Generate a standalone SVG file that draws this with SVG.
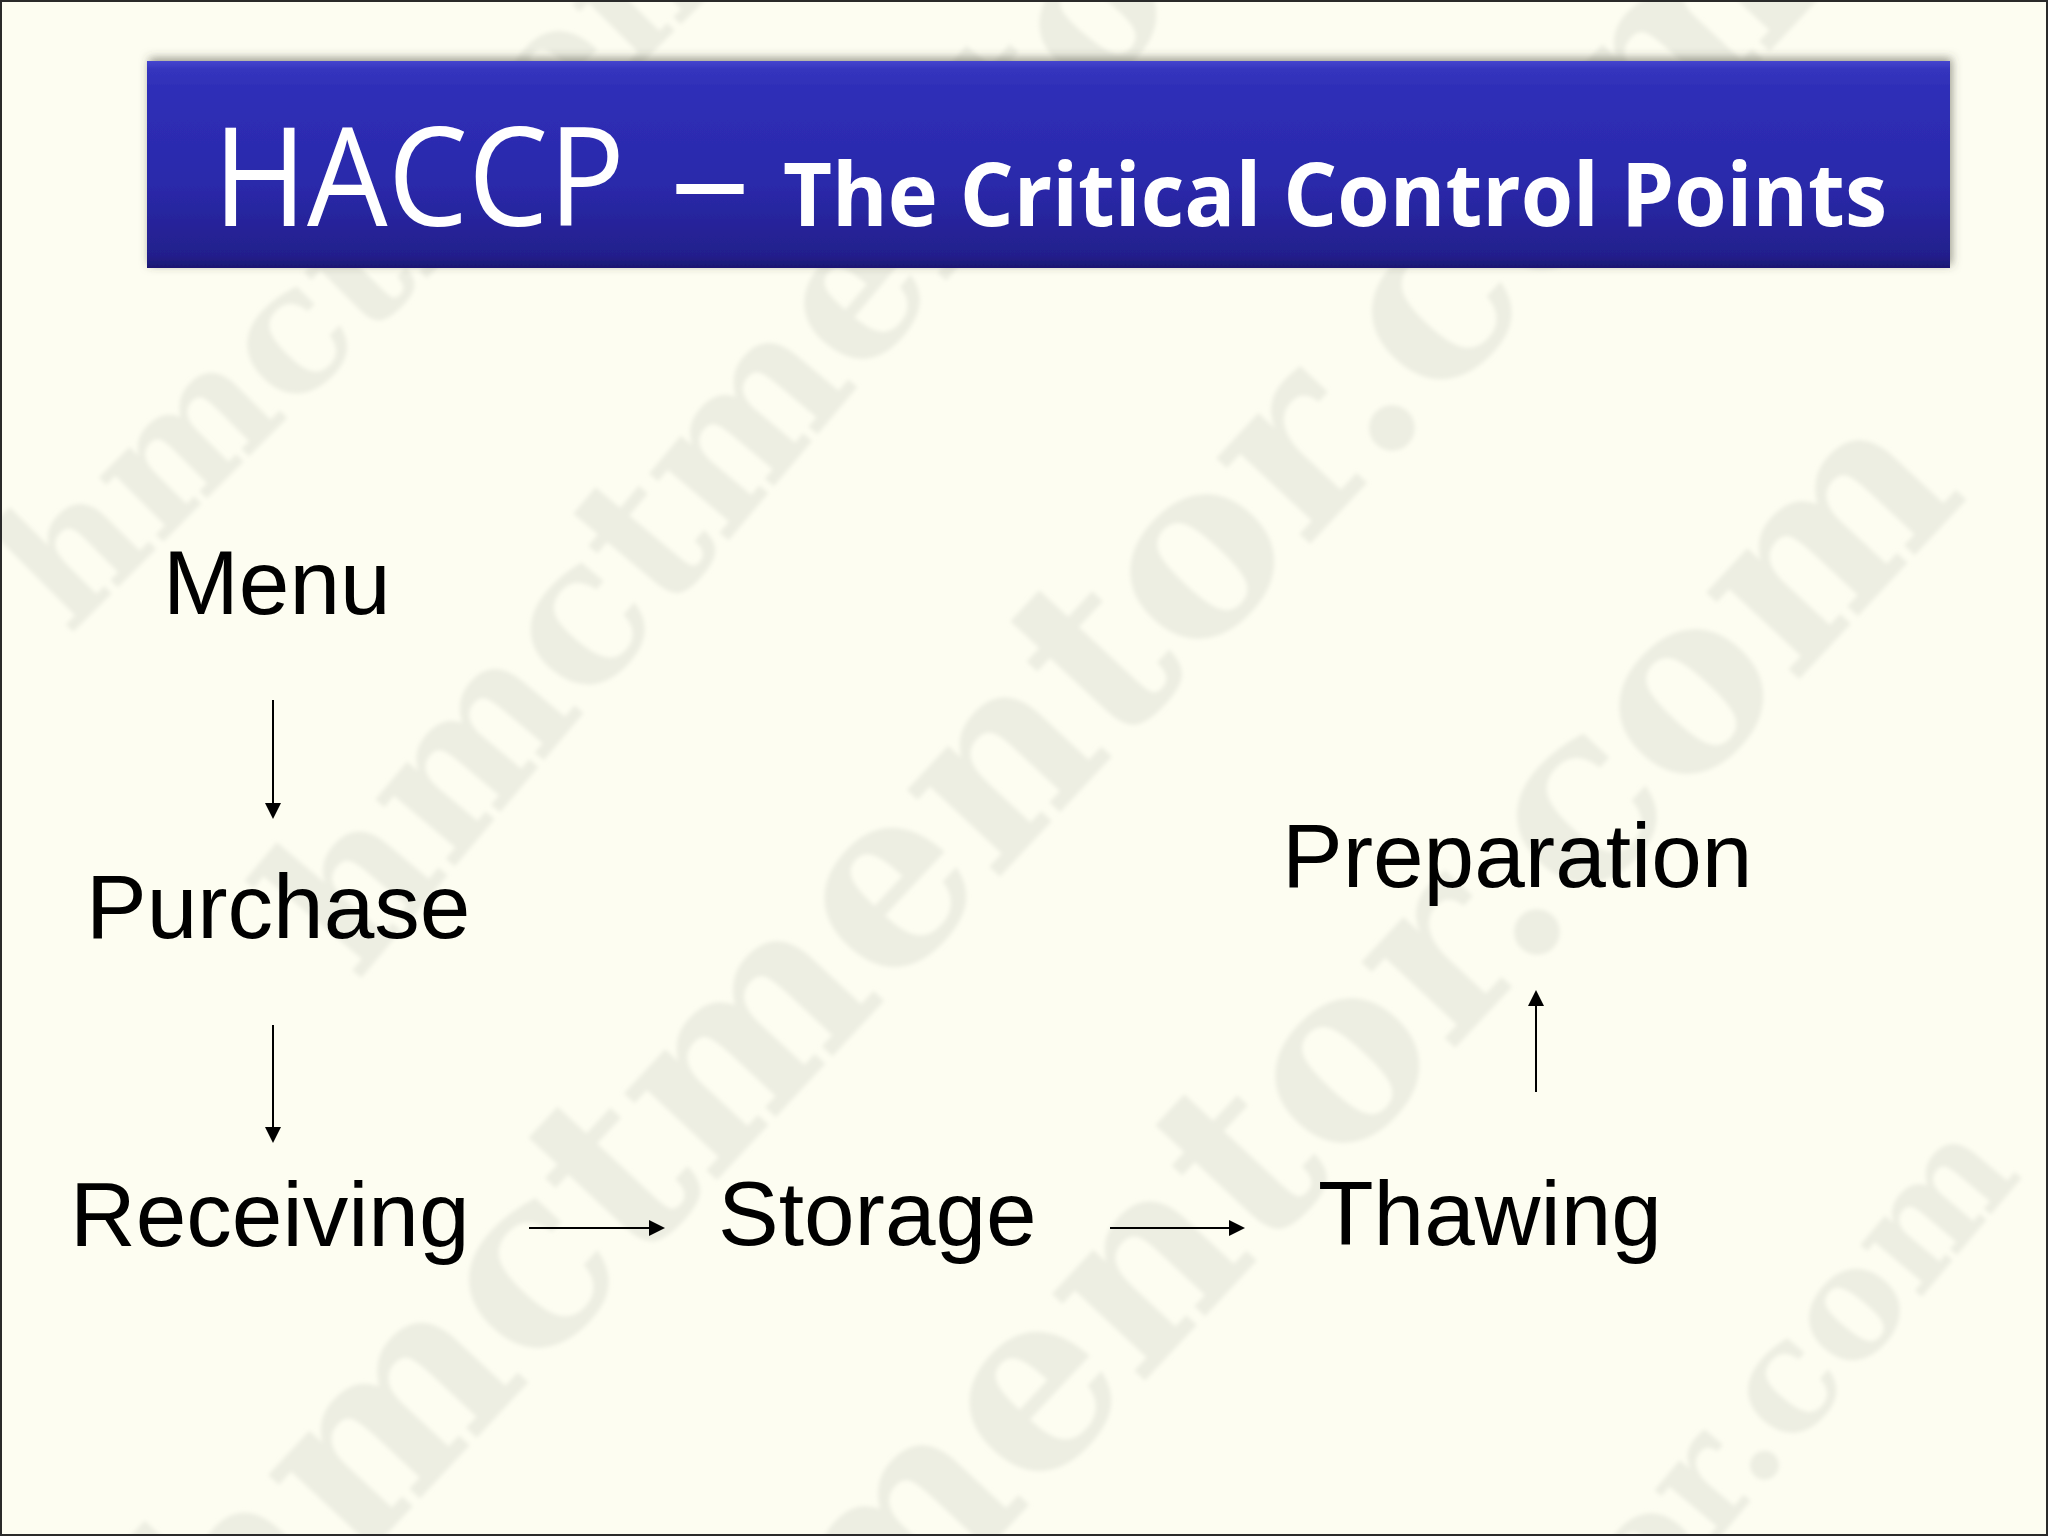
<svg xmlns="http://www.w3.org/2000/svg" width="2048" height="1536" viewBox="0 0 2048 1536">
<defs>
<style>
.wm{font-family:"DejaVu Serif",serif;font-weight:bold;fill:#EDEEE2}
.lbl{font-family:"Liberation Sans",Arial,sans-serif;font-size:91px;fill:#000}
.ttl{font-family:"Open Sans","Noto Sans",sans-serif;fill:#fff}
.conn{stroke:#000;stroke-width:2;fill:none}
</style>
<linearGradient id="barg" x1="0" y1="0" x2="0" y2="1">
<stop offset="0" stop-color="#4646CE"/>
<stop offset="0.04" stop-color="#3535BE"/>
<stop offset="0.12" stop-color="#2F2FB8"/>
<stop offset="0.6" stop-color="#2A29AA"/>
<stop offset="0.94" stop-color="#231F8C"/>
<stop offset="1" stop-color="#1B1872"/>
</linearGradient>
<filter id="shadow" x="-5%" y="-20%" width="110%" height="140%">
<feDropShadow dx="2" dy="-3" stdDeviation="5" flood-color="#4a4a3a" flood-opacity="0.55"/>
</filter>
<filter id="soft"><feGaussianBlur stdDeviation="2"/></filter>
<marker id="ah" markerUnits="userSpaceOnUse" markerWidth="18" markerHeight="18" refX="8" refY="8" orient="auto">
<path d="M0,0 L16,8 L0,16 z" fill="#000"/>
</marker>
</defs>
<rect x="0" y="0" width="2048" height="1536" fill="#FDFDF1"/>
<g id="watermark" filter="url(#soft)">
<text class="wm" font-size="175" transform="translate(69,636) rotate(-45)">hmctmentor.com</text>
<text class="wm" font-size="200" transform="translate(357,983) rotate(-50)">hmctmentor.com</text>
<text class="wm" font-size="245" transform="translate(234,1698) rotate(-47)">hmctmentor.com</text>
<text class="wm" font-size="245" transform="translate(379,2202) rotate(-47)">hmctmentor.com</text>
<text class="wm" font-size="155" transform="translate(1075,2306) rotate(-50)">hmctmentor.com</text>
</g>
<g id="title">
<rect x="147" y="61" width="1803" height="207" fill="url(#barg)" filter="url(#shadow)"/>
<text class="ttl" y="226"><tspan x="213" font-size="137" textLength="412" lengthAdjust="spacingAndGlyphs">HACCP</tspan><tspan x="670" font-size="137" textLength="80" lengthAdjust="spacingAndGlyphs">–</tspan><tspan x="783" font-size="88" font-weight="bold" textLength="1104" lengthAdjust="spacingAndGlyphs">The Critical Control Points</tspan></text>
</g>
<g id="node-menu"><text class="lbl" x="163" y="614">Menu</text></g>
<g id="node-purchase"><text class="lbl" x="86" y="938">Purchase</text></g>
<g id="node-receiving"><text class="lbl" x="70" y="1246">Receiving</text></g>
<g id="node-storage"><text class="lbl" x="718" y="1245">Storage</text></g>
<g id="node-thawing"><text class="lbl" x="1318" y="1245">Thawing</text></g>
<g id="node-preparation"><text class="lbl" x="1282" y="887">Preparation</text></g>
<g id="connectors">
<line class="conn" x1="273" y1="700" x2="273" y2="811" marker-end="url(#ah)"/>
<line class="conn" x1="273" y1="1025" x2="273" y2="1135" marker-end="url(#ah)"/>
<line class="conn" x1="529" y1="1228" x2="657" y2="1228" marker-end="url(#ah)"/>
<line class="conn" x1="1110" y1="1228" x2="1237" y2="1228" marker-end="url(#ah)"/>
<line class="conn" x1="1536" y1="1092" x2="1536" y2="998" marker-end="url(#ah)"/>
</g>
<rect x="1" y="1" width="2046" height="1534" fill="none" stroke="#2a2a2a" stroke-width="2"/>
</svg>
